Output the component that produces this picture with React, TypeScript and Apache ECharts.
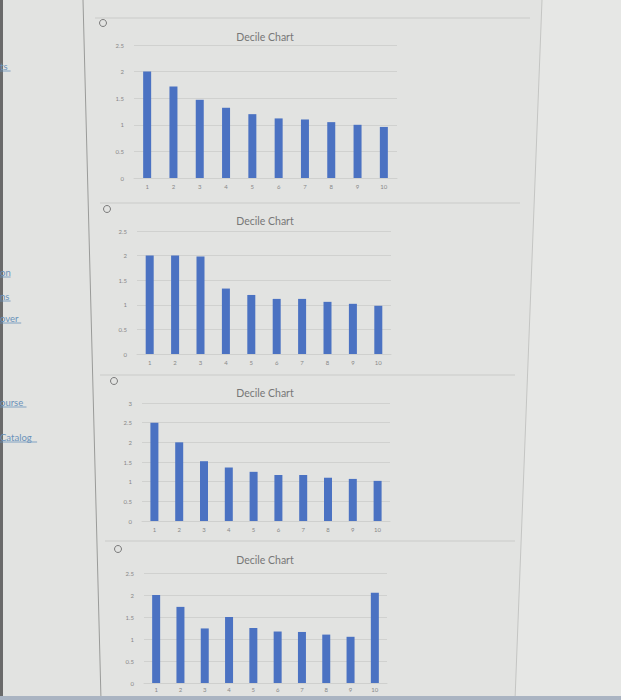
import React, { useEffect, useRef } from "react";
import * as echarts from "echarts";

const deciles = ["1", "2", "3", "4", "5", "6", "7", "8", "9", "10"];
const chart1Values = [2.0, 1.72, 1.47, 1.32, 1.2, 1.12, 1.1, 1.05, 1.0, 0.96];
const chart2Values = [2.0, 2.0, 1.98, 1.33, 1.2, 1.12, 1.12, 1.06, 1.02, 0.98];
const chart3Values = [2.5, 2.0, 1.52, 1.36, 1.25, 1.17, 1.17, 1.1, 1.07, 1.02];
const chart4Values = [2.0, 1.73, 1.24, 1.5, 1.25, 1.17, 1.16, 1.1, 1.05, 2.05];
const chartTitles = ["Decile Chart", "Decile Chart", "Decile Chart", "Decile Chart"];
const yMaxes = [2.5, 2.5, 3, 2.5];
const navLinks = ["ts", "on", "ns", "over", "ourse", "Catalog"];

export default function App() {
  const ref = useRef<HTMLDivElement>(null);
  useEffect(() => {
    if (!ref.current) return;
    const chart = echarts.init(ref.current, null, { renderer: "svg" });
    const seriesData = [chart1Values, chart2Values, chart3Values, chart4Values];
    const grids = [
      { left: 134, top: 45, width: 263, height: 133 },
      { left: 137, top: 231, width: 254, height: 123 },
      { left: 142, top: 403, width: 248, height: 118 },
      { left: 144, top: 573, width: 243, height: 110 },
    ];
    const labelMargins = [5, 5, 5, 3];
    const titleTops = [26, 210, 382, 549];
    const radios = [
      [103, 23],
      [107, 209],
      [114, 381],
      [118, 549],
    ];
    const navY = [66, 272, 296, 318, 402, 437];
    const separators = [
      [95, 18, 530],
      [100, 203, 520],
      [100, 375, 515],
      [105, 541, 515],
    ];
    const font = "Lato, 'Open Sans', sans-serif";
    chart.setOption({
      animation: false,
      backgroundColor: "#e2e3e1",
      title: chartTitles.map((t, i) => ({
        text: t,
        left: 260,
        top: titleTops[i],
        textAlign: "center",
        textStyle: { fontSize: 10.5, fontWeight: "normal", color: "#777", fontFamily: font },
      })),
      grid: grids,
      xAxis: grids.map((_, i) => ({
        type: "category",
        gridIndex: i,
        data: deciles,
        axisLine: { show: true, lineStyle: { color: "#cfd0ce" } },
        axisTick: { show: false },
        axisLabel: { fontSize: 6, color: "#888", margin: labelMargins[i], fontFamily: font },
      })),
      yAxis: grids.map((_, i) => ({
        type: "value",
        gridIndex: i,
        min: 0,
        max: yMaxes[i],
        interval: 0.5,
        axisLine: { show: false },
        axisTick: { show: false },
        axisLabel: { fontSize: 6, color: "#888", margin: 10, fontFamily: font },
        splitLine: { lineStyle: { color: "#d0d1cf", width: 1 } },
      })),
      series: seriesData.map((d, i) => ({
        type: "bar",
        xAxisIndex: i,
        yAxisIndex: i,
        data: d,
        barWidth: 8,
        itemStyle: { color: "#4b72c2" },
      })),
      graphic: [
        { type: "rect", shape: { x: 0, y: 0, width: 3, height: 700 }, style: { fill: "#6a6a6a" } },
        { type: "polygon", shape: { points: [[542, 0], [621, 0], [621, 700], [515, 700]] }, style: { fill: "#e6e7e5" } },
        { type: "line", shape: { x1: 83, y1: 0, x2: 101, y2: 700 }, style: { stroke: "#9a9b99", lineWidth: 1 } },
        { type: "line", shape: { x1: 542, y1: 0, x2: 515, y2: 700 }, style: { stroke: "#c4c5c3", lineWidth: 1 } },
        { type: "rect", shape: { x: 0, y: 696, width: 621, height: 4 }, style: { fill: "#aab4c2" } },
        ...separators.map((s) => ({
          type: "line",
          shape: { x1: s[0], y1: s[1], x2: s[2], y2: s[1] },
          style: { stroke: "#cacbc9", lineWidth: 1 },
        })),
        ...radios.map((r) => ({
          type: "circle",
          shape: { cx: r[0], cy: r[1], r: 3.5 },
          style: { fill: "none", stroke: "#7a7a7a", lineWidth: 1 },
        })),
        ...navLinks.map((t, i) => ({
          type: "text",
          x: 0,
          y: navY[i],
          style: {
            text: t,
            fontSize: 9.5,
            fill: "#6a92ba",
            fontFamily: font,
            textVerticalAlign: "middle",
          },
        })),
        ...navLinks.map((t, i) => ({
          type: "line",
          shape: { x1: 0, y1: navY[i] + 5, x2: t.length * 5.3, y2: navY[i] + 5 },
          style: { stroke: "#6a92ba", lineWidth: 0.8 },
        })),
      ],
    });
    return () => chart.dispose();
  }, []);
  return (
    <div
      ref={ref}
      style={{ position: "fixed", left: 0, top: 0, width: 621, height: 700 }}
    />
  );
}
